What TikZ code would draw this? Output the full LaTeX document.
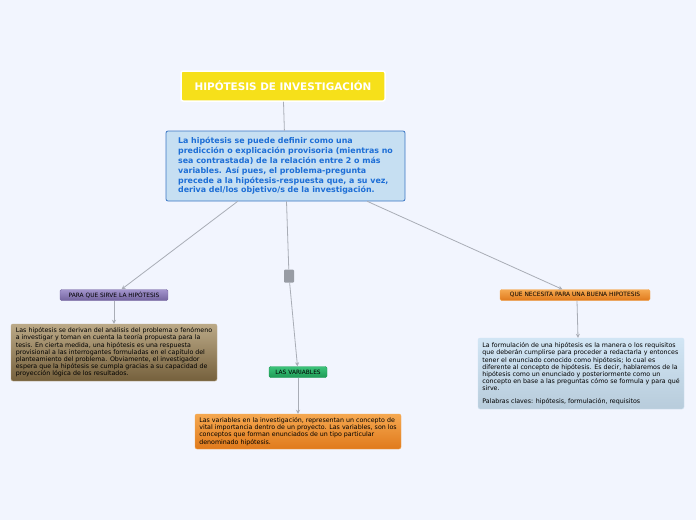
\documentclass[tikz,border=0pt]{standalone}
\usepackage{fontspec}
\setmainfont{DejaVu Sans}
\usetikzlibrary{positioning,arrows.meta}
\definecolor{bgc}{HTML}{F2F5FE}
\definecolor{linec}{HTML}{A9ADB6}
\definecolor{titlec}{HTML}{F6E01A}
\definecolor{mainfill}{HTML}{C6DFF2}
\definecolor{mainline}{HTML}{3A76C4}
\definecolor{maintext}{HTML}{1D6ED6}
\definecolor{purptop}{HTML}{A294CC}
\definecolor{purpbot}{HTML}{74649F}
\definecolor{browntop}{HTML}{BBA987}
\definecolor{brownbot}{HTML}{75603C}
\definecolor{greentop}{HTML}{3CC47A}
\definecolor{greenbot}{HTML}{1E9A55}
\definecolor{orangetop}{HTML}{F5A850}
\definecolor{orangebot}{HTML}{E07A1C}
\tikzset{
  conn/.style={draw=linec, line width=0.8pt, -{Stealth[length=4pt,width=4pt]}},
  tag/.style={rounded corners=1.5pt, inner sep=1.5pt, minimum height=11pt, font=\fontsize{5.9}{6.5}\selectfont},
  note/.style={rounded corners=2pt, align=left, inner sep=3pt, font=\fontsize{6.3}{7.2}\selectfont}
}
\begin{document}
\begin{tikzpicture}[x=1pt,y=-1pt]
  \fill[bgc] (0,0) rectangle (696,520);
  \useasboundingbox (0,0) rectangle (696,520);
  % title and main idea
  \node[fill=titlec, draw=white, line width=1.5pt, rounded corners=2pt, minimum width=204pt, minimum height=30pt,
        text=white, font=\bfseries\fontsize{10.4}{12}\selectfont] (title) at (283,86) {HIPÓTESIS DE INVESTIGACIÓN};
  \node[fill=mainfill, draw=mainline, line width=0.8pt, rounded corners=2pt, minimum width=239pt, minimum height=70pt,
        align=left, text=maintext, font=\bfseries\fontsize{7.9}{9.8}\selectfont] (main) at (285.5,166)
    {La hipótesis se puede definir como una\\predicción o explicación provisoria (mientras no\\sea contrastada) de la relación entre 2 o más\\variables. Así pues, el problema-pregunta\\precede a la hipótesis-respuesta que, a su vez,\\deriva del/los objetivo/s de la investigación.};
  \node[fill=linec!90!black, rounded corners=1pt, minimum width=10pt, minimum height=13pt, inner sep=0pt] (mid) at (289,276) {};
  % branches
  \node[tag, top color=purptop, bottom color=purpbot, draw=purpbot, minimum width=108pt] (why) at (114,295) {PARA QUE SIRVE LA HIPÓTESIS};
  \node[note, top color=browntop, bottom color=brownbot, draw=browntop, minimum width=206pt, minimum height=57pt] (whybox) at (114,352.5)
    {Las hipótesis se derivan del análisis del problema o fenómeno\\a investigar y toman en cuenta la teoría propuesta para la\\tesis. En cierta medida, una hipótesis es una respuesta\\provisional a las interrogantes formuladas en el capítulo del\\planteamiento del problema. Obviamente, el investigador\\espera que la hipótesis se cumpla gracias a su capacidad de\\proyección lógica de los resultados.};
  \node[tag, top color=greentop, bottom color=greenbot, draw=greenbot, minimum width=58pt] (vars) at (298,372) {LAS VARIABLES};
  \node[note, top color=orangetop, bottom color=orangebot, draw=orangetop, minimum width=206pt, minimum height=35pt] (varsbox) at (298,431.5)
    {Las variables en la investigación, representan un concepto de\\vital importancia dentro de un proyecto. Las variables, son los\\conceptos que forman enunciados de un tipo particular\\denominado hipótesis.};
  \node[tag, top color=orangetop, bottom color=orangebot, draw=orangetop, minimum width=150pt] (need) at (575,295) {QUE NECESITA PARA UNA BUENA HIPOTESIS};
  \node[note, top color=mainfill!80!white, bottom color=mainfill!80!gray, draw=mainfill!80!white, minimum width=206pt, minimum height=71pt] (needbox) at (581,373.5)
    {La formulación de una hipótesis es la manera o los requisitos\\que deberán cumplirse para proceder a redactarla y entonces\\tener el enunciado conocido como hipótesis; lo cual es\\diferente al concepto de hipótesis. Es decir, hablaremos de la\\hipótesis como un enunciado y posteriormente como un\\concepto en base a las preguntas cómo se formula y para qué\\sirve.\\[5pt]Palabras claves: hipótesis, formulación, requisitos};
  % connectors
  \draw[draw=linec, line width=0.8pt] (title) -- (main);
  \draw[conn] ([xshift=72pt]main.south west) -- (why);
  \draw[draw=linec, line width=0.8pt] ([xshift=1pt]main.south) -- (mid);
  \draw[conn] (mid) -- (vars);
  \draw[conn] ([xshift=-38pt]main.south east) -- (need);
  \draw[conn] (why) -- (whybox);
  \draw[conn] (vars) -- (varsbox);
  \draw[conn] ([xshift=2pt]need.south) -- ([xshift=-3pt]needbox.north);
\end{tikzpicture}
\end{document}
